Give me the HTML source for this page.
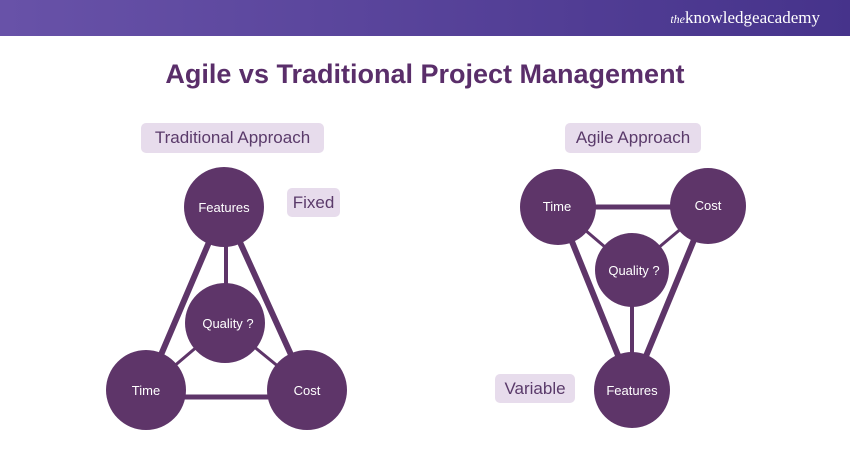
<!DOCTYPE html><html><head><style>
body{margin:0;width:850px;height:450px;background:#fff;font-family:"Liberation Sans",sans-serif;overflow:hidden;position:relative}
.hdr{position:absolute;left:0;top:0;width:850px;height:36px;background:linear-gradient(90deg,#6852a8,#46338b)}
.logo{position:absolute;right:30px;top:8px;color:#fff;font-family:"Liberation Serif",serif;font-size:17px}
.title{position:absolute;top:59px;width:850px;text-align:center;font-weight:bold;font-size:27px;color:#5a2e6a}
.tag{position:absolute;background:#e7dcec;color:#5a3a6a;border-radius:5px;font-size:17px;display:flex;align-items:center;justify-content:center}
</style></head><body>
<div class="hdr"><div class="logo"><i style="font-size:12px">the</i>knowledgeacademy</div></div>
<div class="title">Agile vs Traditional Project Management</div>
<div class="tag" style="left:141px;top:123px;width:183px;height:30px">Traditional Approach</div>
<div class="tag" style="left:287px;top:188px;width:53px;height:29px">Fixed</div>
<div class="tag" style="left:565px;top:123px;width:136px;height:30px">Agile Approach</div>
<div class="tag" style="left:495px;top:374px;width:80px;height:29px">Variable</div>
<svg width="850" height="450" style="position:absolute;left:0;top:0">
<g stroke="#5e3569" fill="none">
<line x1="224" y1="207" x2="146" y2="390" stroke-width="6"/>
<line x1="224" y1="207" x2="307" y2="390" stroke-width="6"/>
<line x1="146" y1="397" x2="307" y2="397" stroke-width="5"/>
<line x1="226" y1="207" x2="226" y2="323" stroke-width="4"/>
<line x1="225" y1="323" x2="146" y2="390" stroke-width="3"/>
<line x1="225" y1="323" x2="307" y2="390" stroke-width="3"/>
<line x1="558" y1="207" x2="632" y2="390" stroke-width="6"/>
<line x1="708" y1="206" x2="632" y2="390" stroke-width="6"/>
<line x1="558" y1="207" x2="708" y2="207" stroke-width="5"/>
<line x1="632" y1="270" x2="632" y2="390" stroke-width="4"/>
<line x1="632" y1="270" x2="558" y2="207" stroke-width="3"/>
<line x1="632" y1="270" x2="708" y2="206" stroke-width="3"/>
</g>
<g fill="#5e3569">
<circle cx="224" cy="207" r="40"/><circle cx="146" cy="390" r="40"/><circle cx="307" cy="390" r="40"/><circle cx="225" cy="323" r="40"/>
<circle cx="558" cy="207" r="38"/><circle cx="708" cy="206" r="38"/><circle cx="632" cy="270" r="37"/><circle cx="632" cy="390" r="38"/>
</g>
<g fill="#fff" font-family="Liberation Sans,sans-serif" font-size="13" text-anchor="middle">
<text x="224" y="212">Features</text><text x="146" y="395">Time</text><text x="307" y="395">Cost</text><text x="228" y="328">Quality ?</text>
<text x="557" y="211">Time</text><text x="708" y="210">Cost</text><text x="634" y="275">Quality ?</text><text x="632" y="395">Features</text>
</g></svg>
</body></html>
